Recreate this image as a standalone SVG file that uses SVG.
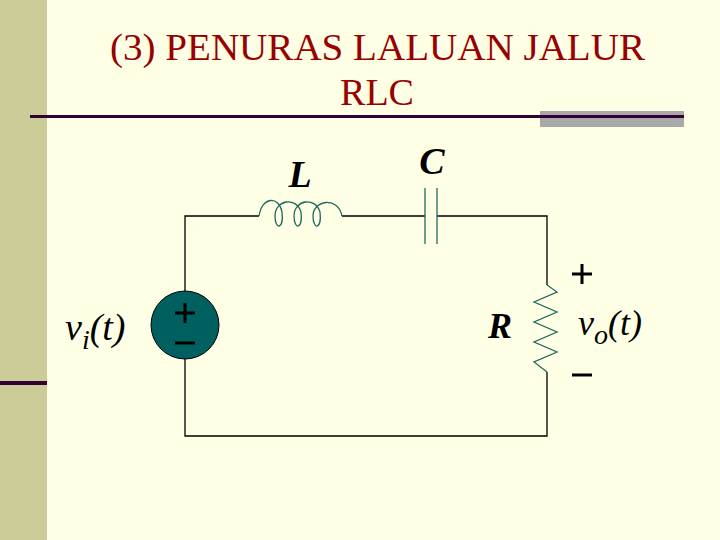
<svg xmlns="http://www.w3.org/2000/svg" width="720" height="540" viewBox="0 0 720 540">
<style>
.w{stroke:#000;stroke-width:1.3;fill:none}
.g{stroke:#1f6a5f;stroke-width:1.3;fill:none}
.t{font-family:"Liberation Serif",serif;fill:#000}
</style>
<rect width="720" height="540" fill="#FFFFE6"/>
<rect x="0" y="0" width="47" height="540" fill="#CCCC99"/>
<rect x="0" y="381" width="47" height="4" fill="#330033"/>
<rect x="540" y="111" width="144" height="16" fill="#A9A9A9"/>
<rect x="30" y="115" width="654" height="3" fill="#330033"/>
<text x="110" y="60" textLength="535" lengthAdjust="spacingAndGlyphs" font-family="Liberation Serif,serif" font-size="38" fill="#990000">(3) PENURAS LALUAN JALUR</text>
<text x="377" y="105" text-anchor="middle" font-family="Liberation Serif,serif" font-size="38" fill="#990000">RLC</text>
<g id="wires">
<path class="w" d="M259 216H185V291M185 359V436H547V372M547 285V216H437M425 216H342"/>
</g>
<g id="L">
<path class="g" d="M259 216C262 196 279 196 282 212C284 230 275 230 275 216C275 200 296 196 301 212C303 230 294 230 294 216C294 200 315 196 320 212C322 230 313 230 313 216C313 200 338 196 342 216"/>
<text class="t" x="300" y="187" text-anchor="middle" font-size="38" font-weight="bold" font-style="italic">L</text>
</g>
<g id="C">
<path class="g" d="M425 188V244M437 188V244"/>
<text class="t" x="432" y="174" text-anchor="middle" font-size="38" font-weight="bold" font-style="italic">C</text>
</g>
<g id="src">
<circle cx="185" cy="325" r="34" fill="#006060" stroke="#000" stroke-width="1"/>
<path d="M185 303V323M175 313H195M175 343H195" stroke="#000" stroke-width="3"/>
<text class="t" x="65" y="340" font-size="38" font-style="italic">v<tspan font-size="28" dy="9">i</tspan><tspan dy="-9">(t)</tspan></text>
</g>
<g id="R">
<path class="g" d="M547 285L557 292L534 302L557 312L534 322L557 332L534 342L557 352L534 362L547 372"/>
<text class="t" x="488" y="338" font-size="36" font-weight="bold" font-style="italic">R</text>
<path d="M582 264V284M572 274H592M572 375H592" stroke="#000" stroke-width="3"/>
<text class="t" x="578" y="335" font-size="36" font-style="italic">v<tspan font-size="28" dy="9">o</tspan><tspan dy="-9">(t)</tspan></text>
</g>
</svg>
